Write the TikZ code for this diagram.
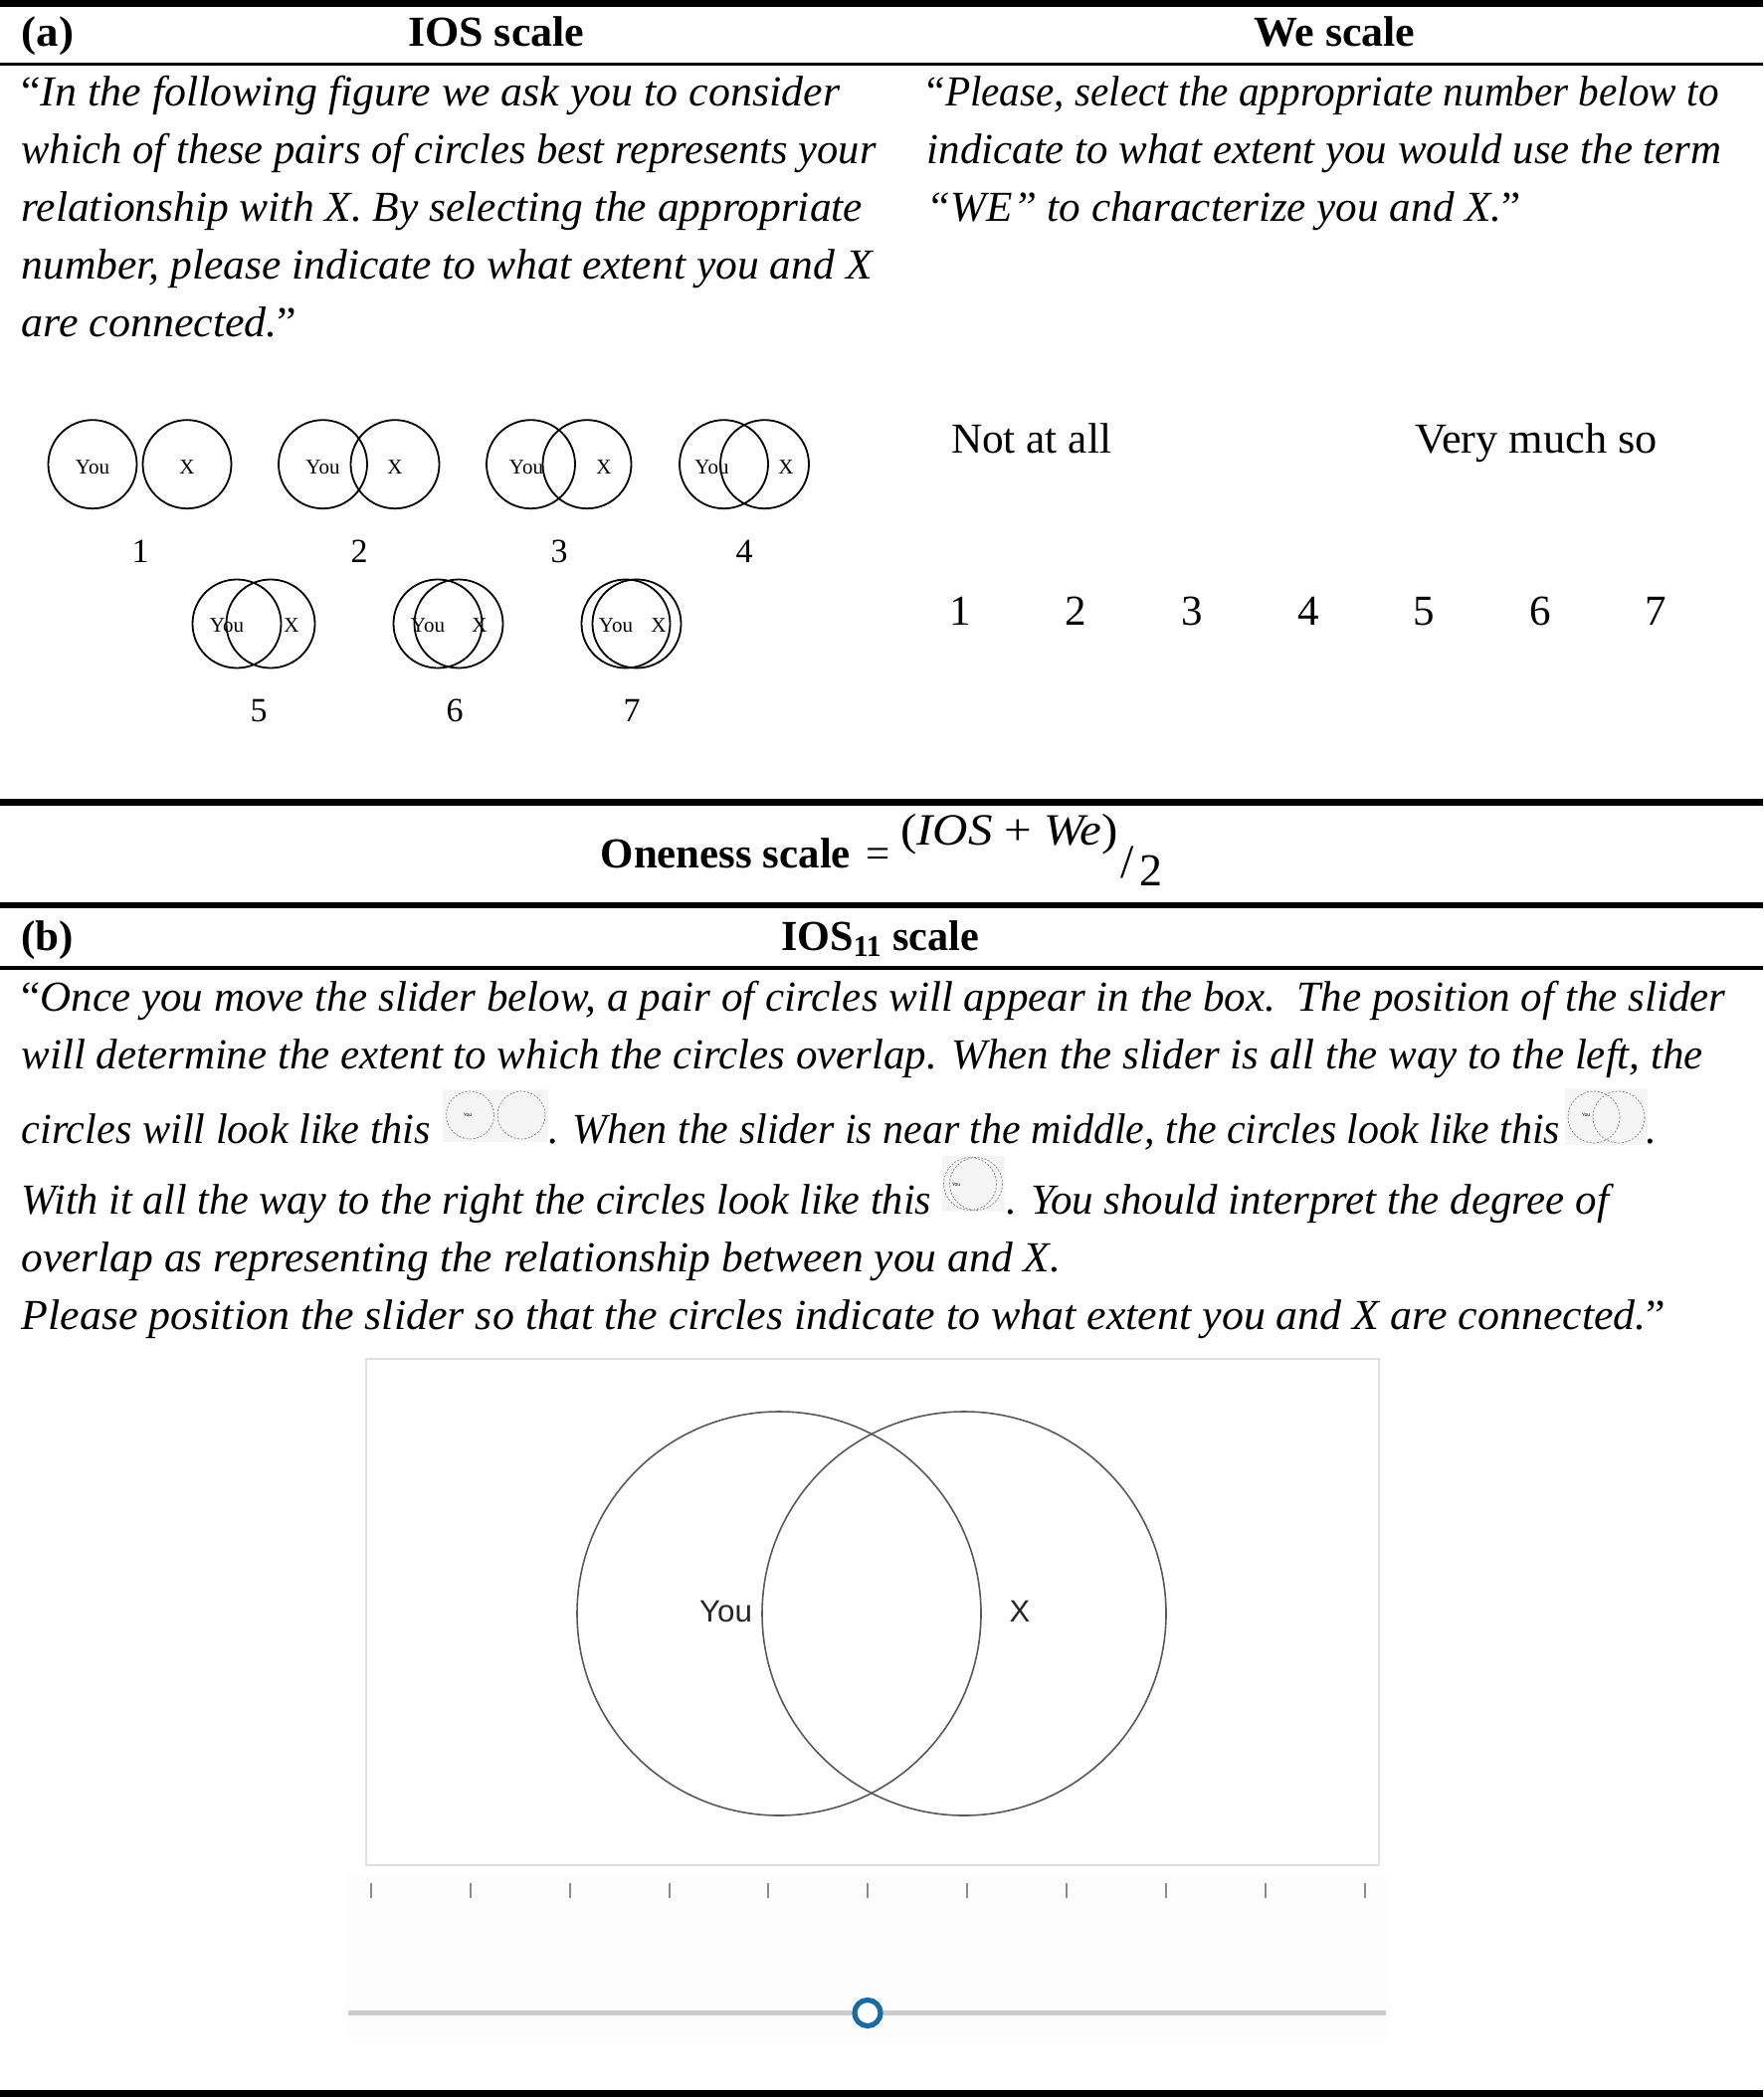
\documentclass[tikz,border=0pt]{standalone}
\usepackage{fontspec}
\setmainfont{Liberation Serif}
\newfontfamily\arialf{Liberation Sans}
\usepackage{graphicx}
\newlength{\fitlen}
\newcommand{\fitbox}[3]{\setlength{\fitlen}{\dimexpr(#2pt-#1pt)/2\relax}\resizebox{\fitlen}{\height}{#3}}
\newcommand{\txtline}[6]{\node[#1,anchor=base west] (#2) at (#3,#5) {\fitbox{#3}{#4}{#6}};}
\definecolor{knobblue}{RGB}{24,108,164}
\tikzset{
  plain/.style={inner sep=0pt, outer sep=0pt},
  bodyit/.style={plain, font=\fontsize{21.5}{26}\selectfont\itshape},
  bodyrm/.style={plain, font=\fontsize{21.5}{26}\selectfont},
  headbf/.style={plain, font=\fontsize{21.5}{26}\selectfont\bfseries},
  mathit/.style={plain, font=\fontsize{22.5}{26}\selectfont\itshape},
  ioslab/.style={plain, font=\fontsize{10.5}{12}\selectfont},
  iosnum/.style={plain, font=\fontsize{17}{20}\selectfont},
  ioscirc/.style={draw=black, line width=0.9pt},
  bigcirc/.style={draw=black!65, line width=0.8pt},
  biglab/.style={plain, font=\arialf\fontsize{15.5}{18}\selectfont, text=black!85},
  iconbg/.style={fill=black!4, draw=none},
  iconcirc/.style={draw=black!50, line width=0.35pt, dash pattern=on 1pt off 0.8pt},
  iconlab/.style={plain, font=\arialf\fontsize{2.5}{3}\selectfont},
  tickmark/.style={draw=black!45, line width=1pt},
  rulefill/.style={fill=black, draw=none},
}
\begin{document}
\begin{tikzpicture}[x=0.5pt,y=-0.5pt]
\useasboundingbox (0,0) rectangle (1772,2108);
% ---------- rules ----------
\fill[rulefill] (0,0) rectangle (1772,7);
\fill[rulefill] (0,63) rectangle (1772,66);
\fill[rulefill] (0,803) rectangle (1772,810);
\fill[rulefill] (0,907) rectangle (1772,913);
\fill[rulefill] (0,971) rectangle (1772,975);
\fill[rulefill] (0,2101) rectangle (1772,2108);
% ---------- heading a ----------
\txtline{headbf}{ha}{21.5}{74}{47}{(a)}
\txtline{headbf}{hios}{410}{587.5}{47}{IOS scale}
\txtline{headbf}{hwe}{1260}{1422.5}{47}{We scale}
% ---------- IOS paragraph ----------
\txtline{bodyit}{a1}{21.5}{844}{107}{{\upshape “}In the following figure we ask you to consider}
\txtline{bodyit}{a2}{21.5}{880.5}{164.8}{which of these pairs of circles best represents your}
\txtline{bodyit}{a3}{21.5}{867}{222.6}{relationship with X. By selecting the appropriate}
\txtline{bodyit}{a4}{21.5}{876.5}{280.4}{number, please indicate to what extent you and X}
\txtline{bodyit}{a5}{21.5}{298.5}{338.2}{are connected.{\upshape ”}}
% ---------- We paragraph ----------
\txtline{bodyit}{w1}{931.7}{1727.7}{107}{{\upshape “}Please, select the appropriate number below to}
\txtline{bodyit}{w2}{931.7}{1730.4}{164.8}{indicate to what extent you would use the term}
\txtline{bodyit}{w3}{931.7}{1528.7}{222.6}{“WE” to characterize you and X.{\upshape ”}}
\txtline{bodyrm}{wlo}{956}{1117}{455}{Not at all}
\txtline{bodyrm}{whi}{1422}{1666}{455}{Very much so}
\foreach \n/\xx in {1/965,2/1081,3/1198,4/1315,5/1431,6/1548,7/1664}
  \node[bodyrm, anchor=base] (wn\n) at (\xx,628) {\n};
% ---------- IOS circles ----------
\foreach \k/\xl/\xr/\yy/\ly/\yl/\xlab/\nx/\ny in {
  1/93/188/466.7/476/93/188/141/565,
  2/324.5/397/466.7/476/324.5/397/361/565,
  3/533.5/590/466.7/476/529/607/562/565,
  4/727.5/768.5/466.7/476/715.5/790/748/565,
  5/238/272/627/635/228/293/260/725,
  6/440/461/627/635/430/482/457/725,
  7/629/640/627/635/619/662/635/725}{
  \draw[ioscirc] (\xl,\yy) circle[radius=44.5];
  \draw[ioscirc] (\xr,\yy) circle[radius=44.5];
  \node[ioslab, anchor=base] (you\k) at (\yl,\ly) {You};
  \node[ioslab, anchor=base] (x\k) at (\xlab,\ly) {X};
  \node[iosnum, anchor=base] (num\k) at (\nx,\ny) {\k};
}
% ---------- Oneness row ----------
\txtline{headbf}{one}{603.7}{855}{872}{Oneness scale}
\node[bodyrm, anchor=base west] (eq) at (870,872) {=};
\txtline{mathit}{frac}{905}{1124}{849}{{\upshape(}IOS {\upshape+} We{\upshape)}}
\node[plain, anchor=base west, font=\fontsize{24}{26}\selectfont] (slash) at (1126,882) {/};
\node[plain, anchor=base west, font=\fontsize{23}{26}\selectfont] (two) at (1145,890) {2};
% ---------- heading b ----------
\txtline{headbf}{hb}{21.5}{74}{955}{(b)}
\txtline{headbf}{hios11}{785}{984}{955}{IOS\textsubscript{11} scale}
% ---------- b paragraph ----------
\txtline{bodyit}{b1}{21.5}{1734.5}{1016}{{\upshape “}Once you move the slider below, a pair of circles will appear in the box.\ \ The position of the slider}
\txtline{bodyit}{b2}{21.5}{1711.5}{1074}{will determine the extent to which the circles overlap. When the slider is all the way to the left, the}
\txtline{bodyit}{b3a}{21.5}{433}{1149}{circles will look like this}
\txtline{bodyit}{b3b}{551}{1568}{1149}{. When the slider is near the middle, the circles look like this}
\node[bodyit, anchor=base west] (b3c) at (1654,1149) {.};
\txtline{bodyit}{b4a}{21.5}{936}{1220}{With it all the way to the right the circles look like this}
\txtline{bodyit}{b4b}{1011}{1617}{1220}{. You should interpret the degree of}
\txtline{bodyit}{b5}{21.5}{1066}{1278}{overlap as representing the relationship between you and X.}
\txtline{bodyit}{b6}{21.5}{1674}{1336}{Please position the slider so that the circles indicate to what extent you and X are connected.{\upshape ”}}
% inline icons
\fill[iconbg] (445,1095) rectangle (551,1148);
\draw[iconcirc] (472.5,1121) circle[radius=24];
\draw[iconcirc] (524,1121) circle[radius=24];
\node[iconlab] (ic1) at (470,1121) {You};
\fill[iconbg] (1573,1094) rectangle (1656,1151);
\draw[iconcirc] (1602,1123) circle[radius=26];
\draw[iconcirc] (1627,1123) circle[radius=26];
\node[iconlab] (ic2) at (1594,1121) {You};
\fill[iconbg] (947,1162) rectangle (1010,1218);
\draw[iconcirc] (975,1190) circle[radius=26.5];
\draw[iconcirc] (981,1190) circle[radius=26.5];
\node[iconlab] (ic3) at (961,1191) {You};
% ---------- slider picture ----------
\draw[draw=black!12, fill=white, line width=0.75pt] (368,1366) rectangle (1386,1875);
\draw[bigcirc] (783,1622) circle[radius=203];
\draw[bigcirc] (969,1622) circle[radius=203];
\txtline{biglab}{byou}{703}{756}{1630}{You}
\node[biglab, anchor=base] (bx) at (1025,1630) {X};
\fill[black!0.7] (350,1883) rectangle (1395,2050);
\foreach \i in {0,...,10}
  \draw[tickmark] ({373+99.85*\i},1893) -- ++(0,15);
\draw[draw=black!20, line width=2.5pt] (350,2023.5) -- (1393,2023.5);
\node[circle, draw=knobblue, line width=2.6pt, fill=white, minimum size=13pt, inner sep=0pt] (knob) at (872,2023.5) {};
\end{tikzpicture}
\end{document}
